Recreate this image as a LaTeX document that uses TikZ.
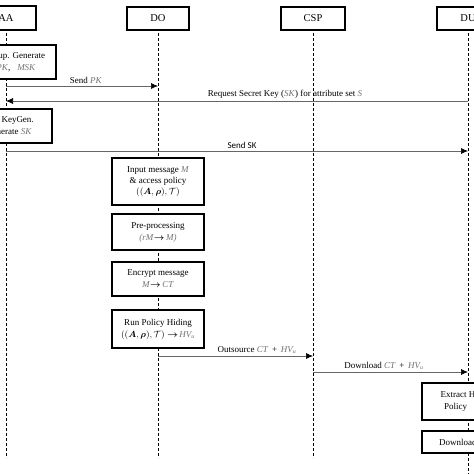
\documentclass[tikz,border=0pt]{standalone}
\usepackage{amsmath}
\usepackage{fontspec}
\setmainfont{Liberation Serif}
\newfontfamily\sendfont{Carlito}
\usetikzlibrary{arrows.meta}
\newcommand{\lmi}[1]{\textcolor{black!55}{\textit{#1}}}
\begin{document}
\begin{tikzpicture}[x=1pt,y=-1pt,
  head/.style={draw, line width=1.3pt, fill=white, minimum height=23pt, inner sep=0, font=\fontsize{10.5}{12}\selectfont},
  stepbox/.style={draw, line width=1.6pt, fill=white, inner sep=0},
  life/.style={line width=1pt, dash pattern=on 3pt off 2pt},
  msg/.style={draw=black!60, line width=0.7pt, -{Latex[length=7pt,width=6pt,black]}},
  lbl/.style={font=\fontsize{9}{10.5}\selectfont, anchor=south, inner sep=1pt},
  txt/.style={font=\fontsize{9}{11}\selectfont, align=center, inner sep=0}
]
\useasboundingbox (0,0) rectangle (474,474);
\clip (0,0) rectangle (474,474);
\fill[white] (0,0) rectangle (474,474);

% lifelines
\coordinate (aa-end) at (6,458);
\coordinate (do-end) at (158,458);
\coordinate (csp-end) at (313,458);
\coordinate (du-end) at (468,476);
\draw[life] (6,18) -- (aa-end);
\draw[life] (158,18) -- (do-end);
\draw[life] (313,18) -- (csp-end);
\draw[life] (468,18) -- (du-end);

% headers
\node[head, minimum width=60pt, minimum height=24pt] (aa) at (6,18) {AA};
\node[head, minimum width=62pt] (do) at (158,18.5) {DO};
\node[head, minimum width=64pt] (csp) at (313,18.5) {CSP};
\node[head, minimum width=62pt] (du) at (468,18.5) {DU};

% AA boxes
\node[stepbox, minimum width=80pt, minimum height=34pt] (setup) at (16,62) {};
\node[txt] (setupt) at (16,62) {Setup. Generate\\[1pt]\lmi{PK}, \ \ \lmi{MSK}};
\node[stepbox, minimum width=86pt, minimum height=34pt] (keygen) at (9,126) {};
\node[txt] (keygent) at (9,126) {Run KeyGen.\\[1pt]Generate \lmi{SK}};

% DO boxes
\node[stepbox, minimum width=92pt, minimum height=47pt] (input) at (158,181.5) {};
\node[txt] (inputt) at (158,181.5) {Input message \lmi{M}\\\& access policy\\$((\boldsymbol{A},\boldsymbol{\rho}),\mathcal{T})$};
\node[stepbox, minimum width=92pt, minimum height=36pt] (pre) at (158,232) {};
\node[txt] (pret) at (158,232) {Pre-processing\\[1pt]\lmi{(rM}$\boldsymbol{\rightarrow}$\,\lmi{M)}};
\node[stepbox, minimum width=92pt, minimum height=34pt] (enc) at (158,279) {};
\node[txt] (enct) at (158,279) {Encrypt message\\[1pt]\lmi{M}$\boldsymbol{\rightarrow}$\,\lmi{CT}};
\node[stepbox, minimum width=92pt, minimum height=38pt] (hide) at (158,329) {};
\node[txt] (hidet) at (158,329) {Run Policy Hiding\\[1pt]$((\boldsymbol{A},\boldsymbol{\rho}),\mathcal{T})\boldsymbol{\rightarrow}$\,\lmi{HV\textsubscript{u}}};

% DU boxes
\node[stepbox, minimum width=92pt, minimum height=37pt] (extract) at (468,401.5) {};
\node[txt] (extractt) at (468,401.5) {Extract Hidden\\[1pt]Policy\phantom{ xxxxx}};
\node[stepbox, minimum width=92pt, minimum height=22pt] (down) at (468,442) {};
\node[txt] (downt) at (468,442) {Download\phantom{ xxxx}};

% messages
\coordinate (pk1) at (6,86);  \coordinate (pk2) at (158,86);
\draw[msg] (pk1) -- (pk2);
\node[lbl] (pkl) at (86,85) {Send \lmi{PK}};

\coordinate (rq1) at (468,101); \coordinate (rq2) at (6,101);
\draw[msg] (rq1) -- (rq2);
\node[lbl] (rql) at (285,99.5) {Request Secret Key (\lmi{SK}) for attribute set \lmi{S}};

\coordinate (sk1) at (6,151); \coordinate (sk2) at (468,151);
\draw[msg] (sk1) -- (sk2);
\node[lbl, font=\sendfont\fontsize{9}{10.5}\selectfont] (skl) at (242,149.5) {Send SK};

\coordinate (os1) at (158,356); \coordinate (os2) at (313,356);
\draw[msg] (os1) -- (os2);
\node[lbl] (osl) at (257,354.5) {Outsource \lmi{CT} \,+\, \lmi{HV\textsubscript{u}}};

\coordinate (dl1) at (313,372); \coordinate (dl2) at (468,372);
\draw[msg] (dl1) -- (dl2);
\node[lbl] (dll) at (384,370.5) {Download \lmi{CT} \,+\, \lmi{HV\textsubscript{u}}};
\end{tikzpicture}
\end{document}
